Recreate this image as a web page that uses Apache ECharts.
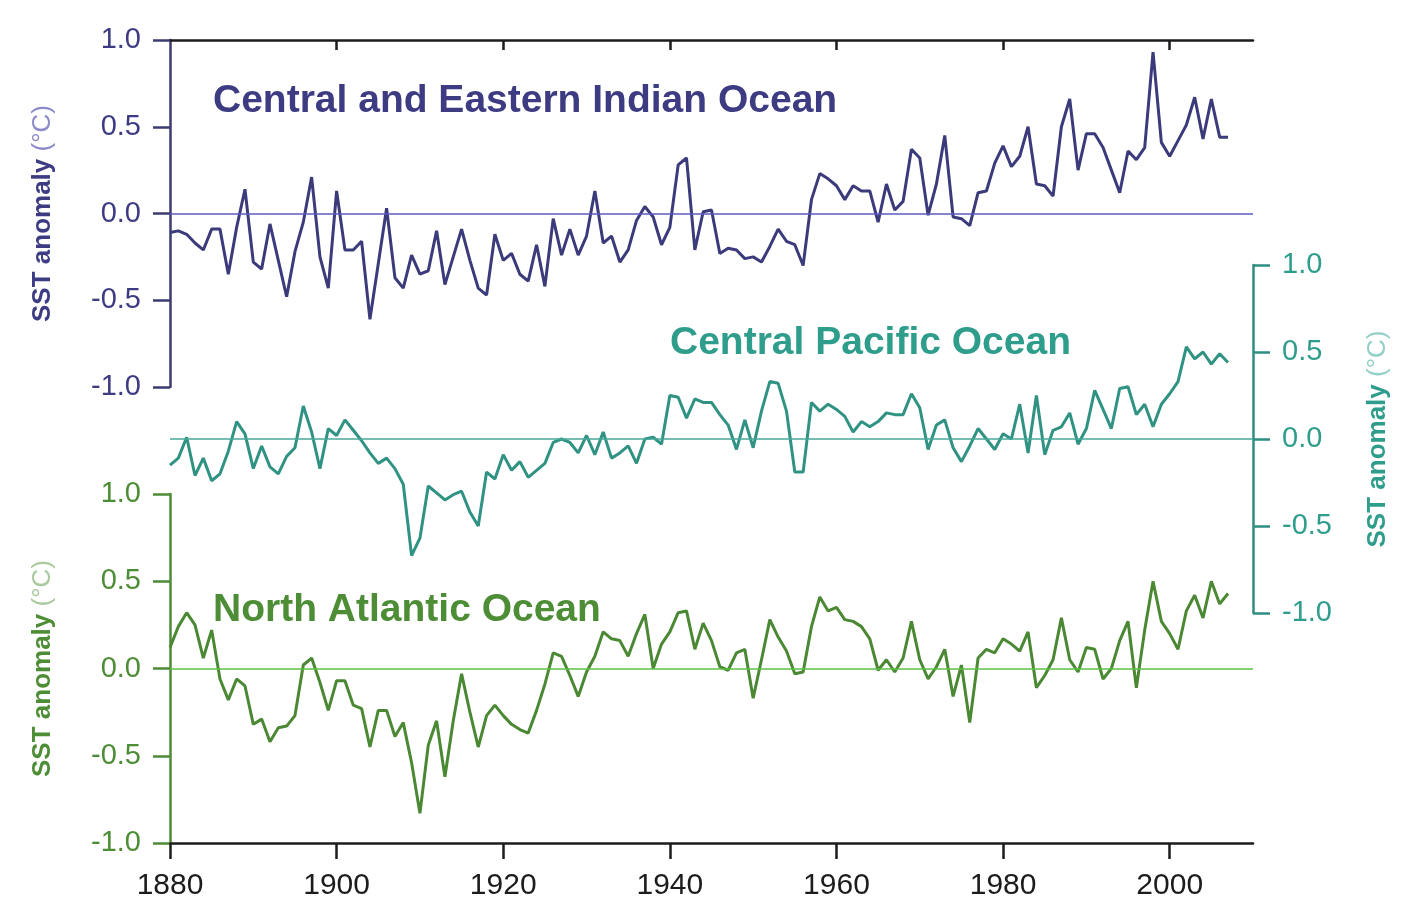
<!DOCTYPE html>
<html>
<head>
<meta charset="utf-8">
<title>SST anomaly</title>
<script src="https://cdn.jsdelivr.net/npm/echarts@6/dist/echarts.min.js"></script>
<style>
  html, body { margin: 0; padding: 0; background: #fff; }
  #main { width: 1409px; height: 913px; }
</style>
</head>
<body>
<div id="main"></div>
<script>
// years shown on the chart
const years = [
  1880, 1881, 1882, 1883, 1884, 1885, 1886, 1887, 1888, 1889,
  1890, 1891, 1892, 1893, 1894, 1895, 1896, 1897, 1898, 1899,
  1900, 1901, 1902, 1903, 1904, 1905, 1906, 1907, 1908, 1909,
  1910, 1911, 1912, 1913, 1914, 1915, 1916, 1917, 1918, 1919,
  1920, 1921, 1922, 1923, 1924, 1925, 1926, 1927, 1928, 1929,
  1930, 1931, 1932, 1933, 1934, 1935, 1936, 1937, 1938, 1939,
  1940, 1941, 1942, 1943, 1944, 1945, 1946, 1947, 1948, 1949,
  1950, 1951, 1952, 1953, 1954, 1955, 1956, 1957, 1958, 1959,
  1960, 1961, 1962, 1963, 1964, 1965, 1966, 1967, 1968, 1969,
  1970, 1971, 1972, 1973, 1974, 1975, 1976, 1977, 1978, 1979,
  1980, 1981, 1982, 1983, 1984, 1985, 1986, 1987, 1988, 1989,
  1990, 1991, 1992, 1993, 1994, 1995, 1996, 1997, 1998, 1999,
  2000, 2001, 2002, 2003, 2004, 2005, 2006, 2007
]

// Central and Eastern Indian Ocean
const indianOcean = [
  -0.11, -0.10, -0.12, -0.17, -0.21, -0.09, -0.09, -0.35, -0.08, 0.14,
  -0.28, -0.32, -0.06, -0.27, -0.48, -0.22, -0.05, 0.21, -0.25, -0.43,
  0.13, -0.21, -0.21, -0.16, -0.61, -0.29, 0.03, -0.37, -0.43, -0.24,
  -0.35, -0.33, -0.10, -0.41, -0.25, -0.09, -0.27, -0.43, -0.47, -0.12,
  -0.27, -0.23, -0.35, -0.39, -0.18, -0.42, -0.03, -0.24, -0.09, -0.24,
  -0.13, 0.13, -0.17, -0.13, -0.28, -0.21, -0.04, 0.04, -0.02, -0.18,
  -0.08, 0.28, 0.32, -0.21, 0.01, 0.02, -0.23, -0.20, -0.21, -0.26,
  -0.25, -0.28, -0.19, -0.09, -0.16, -0.18, -0.30, 0.08, 0.23, 0.20,
  0.16, 0.08, 0.16, 0.13, 0.13, -0.05, 0.17, 0.02, 0.07, 0.37,
  0.32, -0.01, 0.17, 0.45, -0.02, -0.03, -0.07, 0.12, 0.13, 0.29,
  0.39, 0.27, 0.33, 0.50, 0.17, 0.16, 0.10, 0.50, 0.66, 0.25,
  0.46, 0.46, 0.38, 0.25, 0.12, 0.36, 0.31, 0.38, 0.93, 0.41,
  0.33, 0.42, 0.51, 0.67, 0.43, 0.66, 0.44, 0.44
]

// Central Pacific Ocean
const pacificOcean = [
  -0.15, -0.11, 0.01, -0.21, -0.11, -0.24, -0.20, -0.07, 0.10, 0.03,
  -0.17, -0.04, -0.16, -0.20, -0.10, -0.05, 0.19, 0.04, -0.17, 0.06,
  0.02, 0.11, 0.05, -0.01, -0.08, -0.14, -0.11, -0.17, -0.26, -0.67,
  -0.57, -0.27, -0.31, -0.35, -0.32, -0.30, -0.42, -0.50, -0.19, -0.23,
  -0.09, -0.18, -0.13, -0.22, -0.18, -0.14, -0.02, 0.00, -0.02, -0.08,
  0.02, -0.09, 0.04, -0.11, -0.08, -0.04, -0.14, 0.00, 0.01, -0.03,
  0.25, 0.24, 0.12, 0.23, 0.21, 0.21, 0.14, 0.08, -0.06, 0.11,
  -0.05, 0.16, 0.33, 0.32, 0.16, -0.19, -0.19, 0.21, 0.16, 0.20,
  0.17, 0.13, 0.04, 0.10, 0.07, 0.10, 0.15, 0.14, 0.14, 0.26,
  0.18, -0.06, 0.08, 0.11, -0.05, -0.13, -0.04, 0.06, 0.00, -0.06,
  0.03, 0.00, 0.20, -0.08, 0.25, -0.09, 0.05, 0.07, 0.15, -0.03,
  0.06, 0.28, 0.17, 0.06, 0.29, 0.30, 0.14, 0.20, 0.07, 0.20,
  0.26, 0.33, 0.53, 0.46, 0.50, 0.43, 0.49, 0.44
]

// North Atlantic Ocean
const atlanticOcean = [
  0.12, 0.24, 0.32, 0.25, 0.06, 0.22, -0.06, -0.18, -0.06, -0.10,
  -0.32, -0.29, -0.42, -0.34, -0.33, -0.27, 0.02, 0.06, -0.08, -0.24,
  -0.07, -0.07, -0.21, -0.23, -0.45, -0.24, -0.24, -0.39, -0.31, -0.54,
  -0.83, -0.44, -0.30, -0.62, -0.30, -0.03, -0.25, -0.45, -0.27, -0.21,
  -0.27, -0.32, -0.35, -0.37, -0.24, -0.09, 0.09, 0.07, -0.04, -0.16,
  -0.02, 0.07, 0.21, 0.17, 0.16, 0.07, 0.20, 0.31, 0.00, 0.14,
  0.21, 0.32, 0.33, 0.11, 0.26, 0.16, 0.01, -0.01, 0.09, 0.11,
  -0.17, 0.05, 0.28, 0.18, 0.10, -0.03, -0.02, 0.24, 0.41, 0.33,
  0.35, 0.28, 0.27, 0.24, 0.17, -0.01, 0.05, -0.02, 0.06, 0.27,
  0.05, -0.06, 0.01, 0.11, -0.16, 0.02, -0.31, 0.06, 0.11, 0.09,
  0.17, 0.14, 0.10, 0.21, -0.11, -0.04, 0.05, 0.29, 0.05, -0.02,
  0.12, 0.11, -0.06, 0.00, 0.16, 0.27, -0.11, 0.22, 0.50, 0.27,
  0.20, 0.11, 0.33, 0.42, 0.29, 0.50, 0.37, 0.43
]

// tick labels
const yearTicks = [1880, 1900, 1920, 1940, 1960, 1980, 2000]
const topTicks = [1900, 1920, 1940, 1960, 1980, 2000]

const FONT = '"Liberation Sans", Arial, Helvetica, sans-serif'
const BLACK = '#1c1c1c'
const IO = { line: '#3b3a7a', axis: '#3c3b72', text: '#3d3b82', light: '#8c8ac8', zero: '#5b5bc0' }
const CP = { line: '#2f9282', axis: '#2f8f80', text: '#2f9d8b', light: '#93cfc6', zero: '#49a898' }
const NA = { line: '#4a8833', axis: '#4e8b37', text: '#4d8d36', light: '#a9c99e', zero: '#5cc043' }

const pairs = (vals) => years.map((y, i) => [y, vals[i]])

const yAxisBase = (idx, pos, c, gap) => ({
  gridIndex: idx,
  type: 'value',
  position: pos,
  min: -1,
  max: 1,
  interval: 0.5,
  axisLine: { show: true, onZero: false, lineStyle: { color: c.axis, width: 2.5 } },
  axisTick: { show: true, length: 17, lineStyle: { color: c.axis, width: 2.5 } },
  axisLabel: {
    formatter: v => v.toFixed(1),
    fontSize: 29,
    fontFamily: FONT,
    color: c.text,
    margin: 29
  },
  splitLine: { show: false },
  name: '{a|SST anomaly }{b|(°C)}',
  nameLocation: 'middle',
  nameRotate: 90,
  nameGap: gap,
  nameTextStyle: {
    rich: {
      a: { fontSize: 26, fontWeight: 'bold', fontFamily: FONT, color: c.text },
      b: { fontSize: 26, fontFamily: FONT, color: c.light }
    }
  }
})

const zeroLine = (color) => ({
  silent: true,
  symbol: 'none',
  label: { show: false },
  lineStyle: { color, width: 1.6, type: 'solid' },
  data: [{ yAxis: 0 }]
})

const lineSeries = (name, idx, vals, c) => ({
  name,
  type: 'line',
  xAxisIndex: idx,
  yAxisIndex: idx,
  data: pairs(vals),
  showSymbol: false,
  lineStyle: { color: c.line, width: 3 },
  itemStyle: { color: c.line },
  markLine: zeroLine(c.zero)
})

const titleStyle = (color) => ({ color, fontSize: 39, fontWeight: 'bold', fontFamily: FONT })

const chart = echarts.init(document.getElementById('main'))
const option = {
  animation: false,
  backgroundColor: '#ffffff',
  title: [
    { text: 'Central and Eastern Indian Ocean', left: 213, top: 82, padding: 0, textStyle: titleStyle(IO.text) },
    { text: 'Central Pacific Ocean', left: 670, top: 324, padding: 0, textStyle: titleStyle(CP.text) },
    { text: 'North Atlantic Ocean', left: 213, top: 591, padding: 0, textStyle: titleStyle(NA.text) }
  ],
  grid: [
    { left: 170, right: 156, top: 40, height: 347 },
    { left: 170, right: 156, top: 265, height: 348 },
    { left: 170, right: 156, top: 494, height: 349 }
  ],
  xAxis: [
    {
      gridIndex: 0,
      type: 'value',
      position: 'top',
      min: 1880,
      max: 2010,
      interval: 20,
      axisLine: { show: true, onZero: false, lineStyle: { color: BLACK, width: 2.5 } },
      axisTick: { show: true, inside: true, length: 10, customValues: topTicks, lineStyle: { color: BLACK, width: 2.5 } },
      axisLabel: { show: false },
      splitLine: { show: false }
    },
    { gridIndex: 1, type: 'value', min: 1880, max: 2010, show: false, splitLine: { show: false } },
    {
      gridIndex: 2,
      type: 'value',
      position: 'bottom',
      min: 1880,
      max: 2010,
      interval: 20,
      axisLine: { show: true, onZero: false, lineStyle: { color: BLACK, width: 2.5 } },
      axisTick: { show: true, length: 16, customValues: yearTicks, lineStyle: { color: BLACK, width: 2.5 } },
      axisLabel: {
        customValues: yearTicks,
        formatter: v => String(v),
        fontSize: 30,
        fontFamily: FONT,
        color: BLACK,
        margin: 28
      },
      splitLine: { show: false }
    }
  ],
  yAxis: [
    yAxisBase(0, 'left', IO, 114),
    yAxisBase(1, 'right', CP, 112),
    yAxisBase(2, 'left', NA, 114)
  ],
  series: [
    lineSeries('Central Pacific Ocean', 1, pacificOcean, CP),
    lineSeries('North Atlantic Ocean', 2, atlanticOcean, NA),
    lineSeries('Central and Eastern Indian Ocean', 0, indianOcean, IO)
  ]
}
chart.setOption(option)
</script>
</body>
</html>
